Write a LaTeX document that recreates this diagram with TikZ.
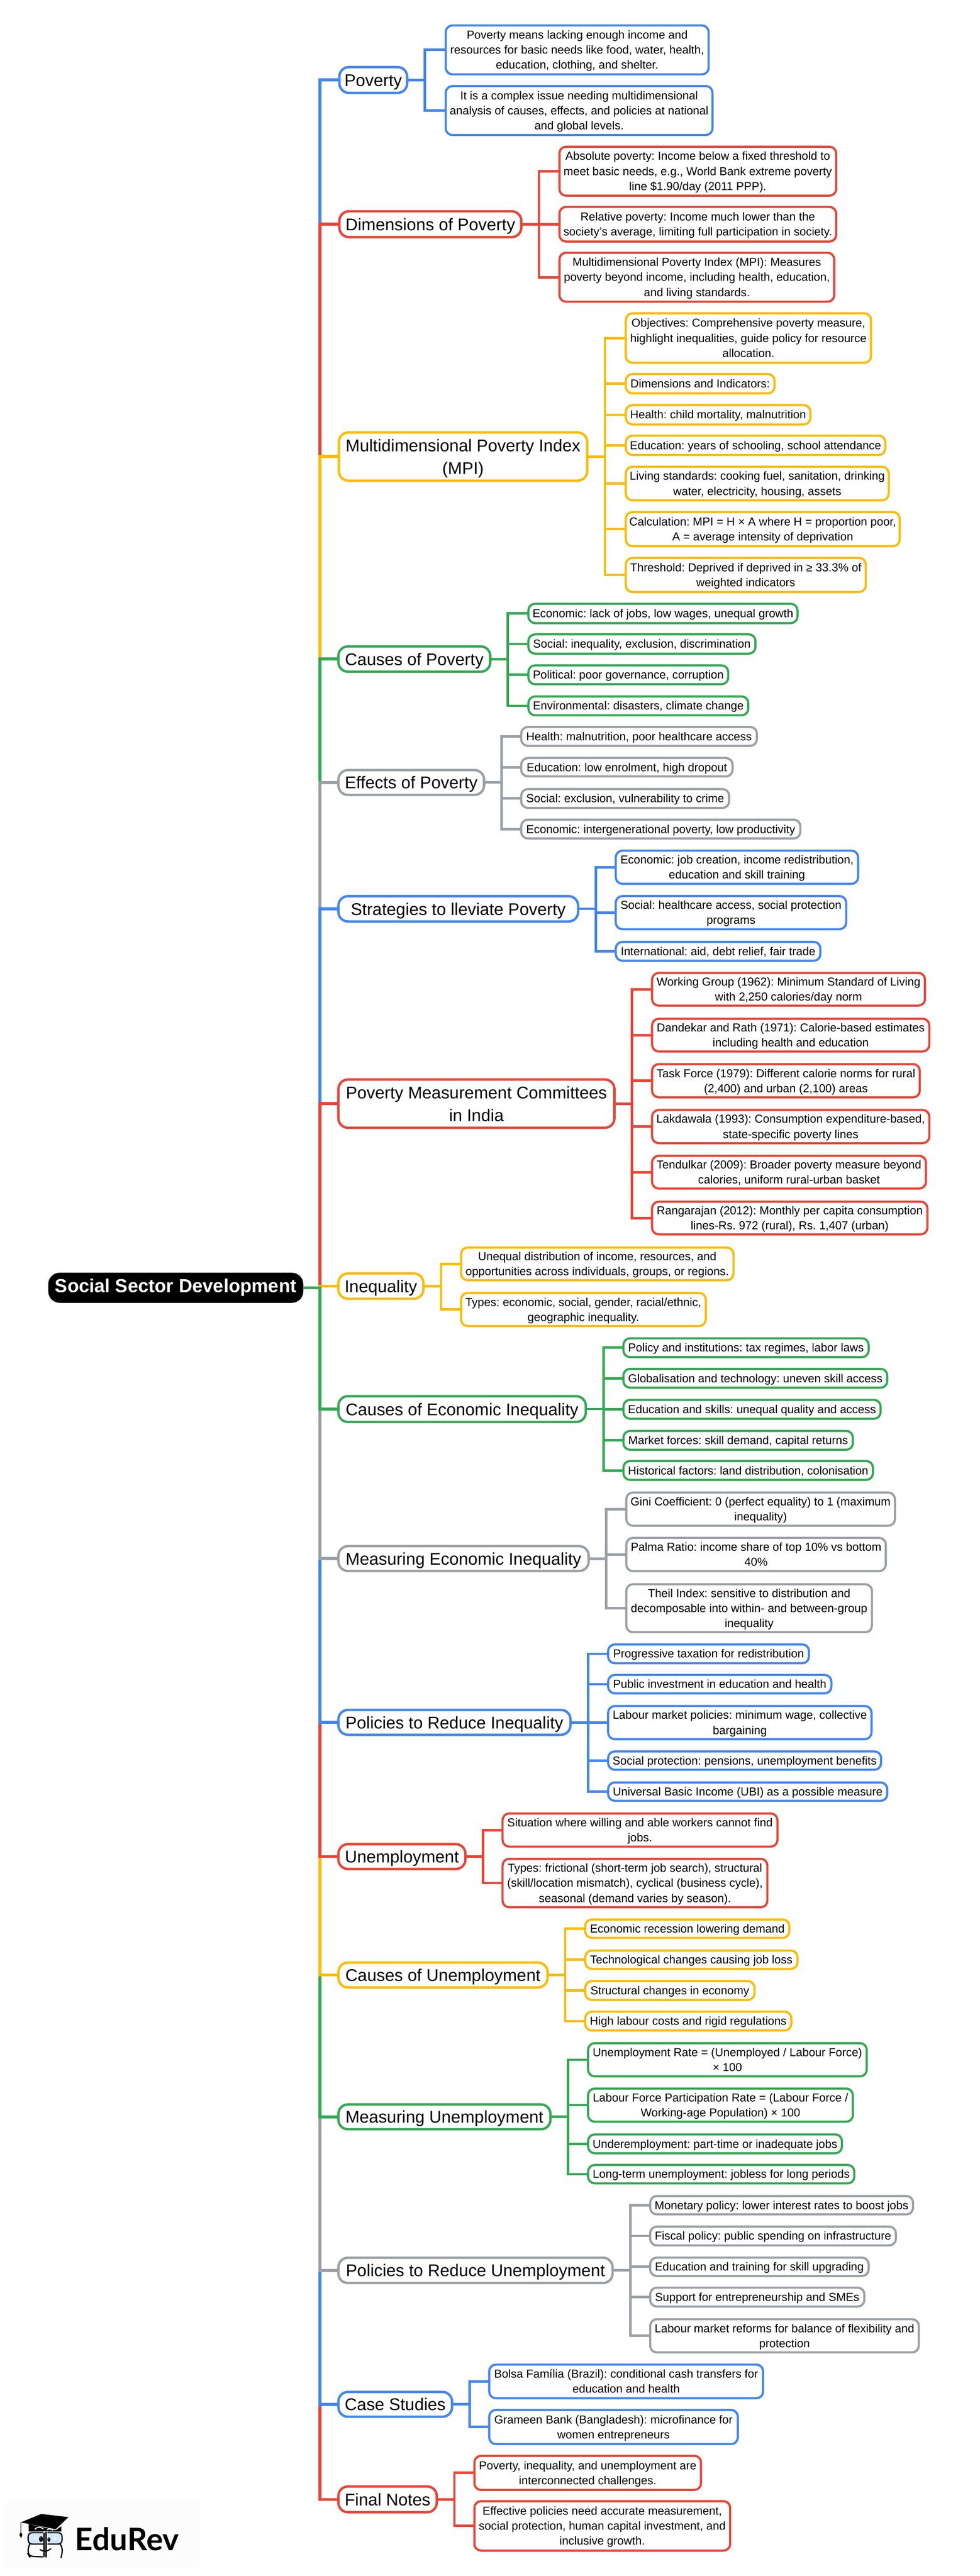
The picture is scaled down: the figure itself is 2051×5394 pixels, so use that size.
\documentclass[tikz,border=0pt]{standalone}
\usepackage{fontspec}
\setmainfont{Liberation Sans}
\newfontfamily\logofont{Lato}
\AtBeginDocument{\frenchspacing}
\definecolor{cblue}{HTML}{4285F4}
\definecolor{cred}{HTML}{EA4335}
\definecolor{cyel}{HTML}{FFBB00}
\definecolor{cgreen}{HTML}{34A853}
\definecolor{cgray}{HTML}{9AA0A6}
\def\MSTR{\leavevmode\vrule width 0pt height 18.25pt depth 5.25pt\relax}
\def\KSTR{\leavevmode\vrule width 0pt height 12.125pt depth 3.625pt\relax}
\def\NL{\STRT\\\STRT}
\tikzset{
  mainbox/.style={rectangle,rounded corners=10pt,line width=2.5pt,fill=white,inner sep=0pt,outer sep=0pt,align=center,text=black,font=\fontsize{17.75}{23.5}\selectfont},
  kidbox/.style={rectangle,rounded corners=7pt,line width=2.25pt,fill=white,inner sep=0pt,outer sep=0pt,align=center,text=black,font=\fontsize{12.1}{15.75}\selectfont},
  rootbox/.style={rectangle,rounded corners=12pt,fill=black,inner sep=0pt,outer sep=0pt,align=center,text=white,font=\fontsize{19.6}{24}\selectfont\bfseries},
  trunkline/.style={line width=3pt},
  busline/.style={line width=2.6pt}
}
\newcommand\MN[7]{\let\STRT\MSTR\node[mainbox,draw=#1,minimum width={(#4-#3-5)*0.5pt},minimum height={(#6-#5-5)*0.5pt}] (#2) at ({(#3+#4)/2},{(#5+#6)/2}) {\STRT #7\STRT};}
\newcommand\KD[7]{\let\STRT\KSTR\node[kidbox,draw=#1,minimum width={(#4-#3-4.5)*0.5pt},minimum height={(#6-#5-4.5)*0.5pt}] (#2) at ({(#3+#4)/2},{(#5+#6)/2}) {\STRT #7\STRT};}
\newcommand\BR[3]{\foreach \kid in {#3} {\draw[busline,#1] (#2.east) -- ++(37,0) |- (\kid.west);}}
\newcommand\TR[2]{\draw[trunkline,#1] (root.east) -- ++(35,0) |- (#2.west);}
\begin{document}
\begin{tikzpicture}[x=0.5pt,y=-0.5pt]
\useasboundingbox (0,0) rectangle (2051,5394);
\fill[white] (0,0) rectangle (2051,5394);
% root
\node[rootbox,minimum width={534*0.5pt},minimum height={63*0.5pt}] (root) at (368,2696.5) {Social Sector Development};
% Poverty
\MN{cblue}{pov}{708}{855}{138}{197}{Poverty}
\KD{cblue}{povA}{931}{1486}{51}{158}{Poverty means lacking enough income and\NL resources for basic needs like food, water, health,\NL education, clothing, and shelter.}
\KD{cblue}{povB}{931}{1494}{178}{285}{It is a complex issue needing multidimensional\NL analysis of causes, effects, and policies at national\NL and global levels.}
% Dimensions
\MN{cred}{dim}{708}{1094}{440}{499}{Dimensions of Poverty}
\KD{cred}{dimA}{1169}{1753}{305}{412}{Absolute poverty: Income below a fixed threshold to\NL meet basic needs, e.g., World Bank extreme poverty\NL line \$1.90/day (2011 PPP).}
\KD{cred}{dimB}{1169}{1753}{431}{508}{Relative poverty: Income much lower than the\NL society's average, limiting full participation in society.}
\KD{cred}{dimC}{1169}{1749}{527}{634}{Multidimensional Poverty Index (MPI): Measures\NL poverty beyond income, including health, education,\NL and living standards.}
% MPI
\MN{cyel}{mpi}{707}{1232}{903}{1009}{Multidimensional Poverty Index\NL (MPI)}
\KD{cyel}{mpiA}{1308}{1826}{654}{762}{Objectives: Comprehensive poverty measure,\NL highlight inequalities, guide policy for resource\NL allocation.}
\KD{cyel}{mpiB}{1308}{1624}{781}{826}{Dimensions and Indicators:}
\KD{cyel}{mpiC}{1308}{1699}{846}{891}{Health: child mortality, malnutrition}
\KD{cyel}{mpiD}{1308}{1856}{910}{955}{Education: years of schooling, school attendance}
\KD{cyel}{mpiE}{1308}{1863}{975}{1050}{Living standards: cooking fuel, sanitation, drinking\NL water, electricity, housing, assets}
\KD{cyel}{mpiF}{1308}{1886}{1070}{1146}{Calculation: MPI = H × A where H = proportion poor,\NL A = average intensity of deprivation}
\KD{cyel}{mpiG}{1308}{1815}{1166}{1242}{Threshold: Deprived if deprived in ≥ 33.3\% of\NL weighted indicators}
% Causes of poverty
\MN{cgreen}{cop}{706}{1029}{1351}{1409}{Causes of Poverty}
\KD{cgreen}{copA}{1104}{1672}{1262}{1307}{Economic: lack of jobs, low wages, unequal growth}
\KD{cgreen}{copB}{1104}{1584}{1326}{1371}{Social: inequality, exclusion, discrimination}
\KD{cgreen}{copC}{1104}{1527}{1391}{1435}{Political: poor governance, corruption}
\KD{cgreen}{copD}{1104}{1569}{1456}{1500}{Environmental: disasters, climate change}
% Effects
\MN{cgray}{eff}{706}{1016}{1610}{1667}{Effects of Poverty}
\KD{cgray}{effA}{1089}{1587}{1520}{1564}{Health: malnutrition, poor healthcare access}
\KD{cgray}{effB}{1089}{1536}{1585}{1628}{Education: low enrolment, high dropout}
\KD{cgray}{effC}{1089}{1529}{1650}{1694}{Social: exclusion, vulnerability to crime}
\KD{cgray}{effD}{1089}{1678}{1714}{1758}{Economic: intergenerational poverty, low productivity}
% Strategies
\MN{cblue}{str}{706}{1213}{1874}{1932}{Strategies to lleviate Poverty}
\KD{cblue}{strA}{1287}{1799}{1779}{1853}{Economic: job creation, income redistribution,\NL education and skill training}
\KD{cblue}{strB}{1287}{1774}{1874}{1948}{Social: healthcare access, social protection\NL programs}
\KD{cblue}{strC}{1287}{1720}{1970}{2014}{International: aid, debt relief, fair trade}
% Committees
\MN{cred}{pmc}{706}{1289}{2258}{2364}{Poverty Measurement Committees\NL in India}
\KD{cred}{pmcA}{1363}{1939}{2035}{2108}{Working Group (1962): Minimum Standard of Living\NL with 2,250 calories/day norm}
\KD{cred}{pmcB}{1363}{1948}{2131}{2204}{Dandekar and Rath (1971): Calorie-based estimates\NL including health and education}
\KD{cred}{pmcC}{1363}{1928}{2226}{2300}{Task Force (1979): Different calorie norms for rural\NL (2,400) and urban (2,100) areas}
\KD{cred}{pmcD}{1363}{1948}{2322}{2396}{Lakdawala (1993): Consumption expenditure-based,\NL state-specific poverty lines}
\KD{cred}{pmcE}{1363}{1941}{2418}{2491}{Tendulkar (2009): Broader poverty measure beyond\NL calories, uniform rural-urban basket}
\KD{cred}{pmcF}{1363}{1944}{2514}{2587}{Rangarajan (2012): Monthly per capita consumption\NL lines-Rs. 972 (rural), Rs. 1,407 (urban)}
% Inequality
\MN{cyel}{ineq}{706}{889}{2664}{2722}{Inequality}
\KD{cyel}{ineqA}{963}{1538}{2610}{2683}{Unequal distribution of income, resources, and\NL opportunities across individuals, groups, or regions.}
\KD{cyel}{ineqB}{963}{1480}{2705}{2779}{Types: economic, social, gender, racial/ethnic,\NL geographic inequality.}
% Causes of economic inequality
\MN{cgreen}{cei}{706}{1229}{2921}{2980}{Causes of Economic Inequality}
\KD{cgreen}{ceiA}{1303}{1821}{2800}{2844}{Policy and institutions: tax regimes, labor laws}
\KD{cgreen}{ceiB}{1303}{1860}{2864}{2908}{Globalisation and technology: uneven skill access}
\KD{cgreen}{ceiC}{1303}{1846}{2929}{2973}{Education and skills: unequal quality and access}
\KD{cgreen}{ceiD}{1303}{1788}{2994}{3038}{Market forces: skill demand, capital returns}
\KD{cgreen}{ceiE}{1303}{1830}{3057}{3101}{Historical factors: land distribution, colonisation}
% Measuring economic inequality
\MN{cgray}{mei}{706}{1235}{3235}{3292}{Measuring Economic Inequality}
\KD{cgray}{meiA}{1309}{1876}{3123}{3197}{Gini Coefficient: 0 (perfect equality) to 1 (maximum\NL inequality)}
\KD{cgray}{meiB}{1309}{1857}{3218}{3292}{Palma Ratio: income share of top 10\% vs bottom\NL 40\%}
\KD{cgray}{meiC}{1309}{1828}{3315}{3420}{Theil Index: sensitive to distribution and\NL decomposable into within- and between-group\NL inequality}
% Policies inequality
\MN{cblue}{pri}{706}{1197}{3578}{3635}{Policies to Reduce Inequality}
\KD{cblue}{priA}{1271}{1696}{3441}{3485}{Progressive taxation for redistribution}
\KD{cblue}{priB}{1271}{1743}{3505}{3548}{Public investment in education and health}
\KD{cblue}{priC}{1271}{1827}{3570}{3644}{Labour market policies: minimum wage, collective\NL bargaining}
\KD{cblue}{priD}{1271}{1847}{3665}{3708}{Social protection: pensions, unemployment benefits}
\KD{cblue}{priE}{1271}{1860}{3730}{3773}{Universal Basic Income (UBI) as a possible measure}
% Unemployment
\MN{cred}{une}{706}{977}{3859}{3916}{Unemployment}
\KD{cred}{uneA}{1050}{1630}{3795}{3869}{Situation where willing and able workers cannot find\NL jobs.}
\KD{cred}{uneB}{1050}{1609}{3890}{3996}{Types: frictional (short-term job search), structural\NL (skill/location mismatch), cyclical (business cycle),\NL seasonal (demand varies by season).}
% Causes of unemployment
\MN{cyel}{cou}{706}{1149}{4107}{4164}{Causes of Unemployment}
\KD{cyel}{couA}{1223}{1655}{4017}{4060}{Economic recession lowering demand}
\KD{cyel}{couB}{1223}{1672}{4082}{4125}{Technological changes causing job loss}
\KD{cyel}{couC}{1223}{1582}{4146}{4190}{Structural changes in economy}
\KD{cyel}{couD}{1223}{1659}{4210}{4254}{High labour costs and rigid regulations}
% Measuring unemployment
\MN{cgreen}{meu}{706}{1155}{4404}{4461}{Measuring Unemployment}
\KD{cgreen}{meuA}{1229}{1817}{4276}{4350}{Unemployment Rate = (Unemployed / Labour Force)\NL × 100}
\KD{cgreen}{meuB}{1229}{1788}{4371}{4445}{Labour Force Participation Rate = (Labour Force /\NL Working-age Population) × 100}
\KD{cgreen}{meuC}{1229}{1765}{4467}{4511}{Underemployment: part-time or inadequate jobs}
\KD{cgreen}{meuD}{1229}{1791}{4531}{4574}{Long-term unemployment: jobless for long periods}
% Policies unemployment
\MN{cgray}{pru}{706}{1285}{4725}{4783}{Policies to Reduce Unemployment}
\KD{cgray}{pruA}{1359}{1914}{4596}{4639}{Monetary policy: lower interest rates to boost jobs}
\KD{cgray}{pruB}{1359}{1878}{4660}{4704}{Fiscal policy: public spending on infrastructure}
\KD{cgray}{pruC}{1359}{1821}{4725}{4768}{Education and training for skill upgrading}
\KD{cgray}{pruD}{1359}{1812}{4788}{4832}{Support for entrepreneurship and SMEs}
\KD{cgray}{pruE}{1359}{1926}{4854}{4928}{Labour market reforms for balance of flexibility and\NL protection}
% Case studies
\MN{cblue}{cas}{706}{949}{5006}{5063}{Case Studies}
\KD{cblue}{casA}{1022}{1600}{4949}{5024}{Bolsa Família (Brazil): conditional cash transfers for\NL education and health}
\KD{cblue}{casB}{1022}{1547}{5044}{5120}{Grameen Bank (Bangladesh): microfinance for\NL women entrepreneurs}
% Final notes
\MN{cred}{fin}{706}{917}{5204}{5263}{Final Notes}
\KD{cred}{finA}{991}{1470}{5140}{5216}{Poverty, inequality, and unemployment are\NL interconnected challenges.}
\KD{cred}{finB}{991}{1531}{5235}{5343}{Effective policies need accurate measurement,\NL social protection, human capital investment, and\NL inclusive growth.}
% branch connectors
\BR{cblue}{pov}{povA,povB}
\BR{cred}{dim}{dimA,dimB,dimC}
\BR{cyel}{mpi}{mpiA,mpiB,mpiC,mpiD,mpiE,mpiF,mpiG}
\BR{cgreen}{cop}{copA,copB,copC,copD}
\BR{cgray}{eff}{effA,effB,effC,effD}
\BR{cblue}{str}{strA,strB,strC}
\BR{cred}{pmc}{pmcA,pmcB,pmcC,pmcD,pmcE,pmcF}
\BR{cyel}{ineq}{ineqA,ineqB}
\BR{cgreen}{cei}{ceiA,ceiB,ceiC,ceiD,ceiE}
\BR{cgray}{mei}{meiA,meiB,meiC}
\BR{cblue}{pri}{priA,priB,priC,priD,priE}
\BR{cred}{une}{uneA,uneB}
\BR{cyel}{cou}{couA,couB,couC,couD}
\BR{cgreen}{meu}{meuA,meuB,meuC,meuD}
\BR{cgray}{pru}{pruA,pruB,pruC,pruD,pruE}
\BR{cblue}{cas}{casA,casB}
\BR{cred}{fin}{finA,finB}
% trunk: upper half
\TR{cblue}{pov}
\TR{cred}{dim}
\TR{cyel}{mpi}
\TR{cgreen}{cop}
\TR{cgray}{eff}
\TR{cblue}{str}
\TR{cred}{pmc}
\TR{cyel}{ineq}
% trunk: lower half
\TR{cred}{fin}
\TR{cblue}{cas}
\TR{cgray}{pru}
\TR{cgreen}{meu}
\TR{cyel}{cou}
\TR{cred}{une}
\TR{cblue}{pri}
\TR{cgray}{mei}
\TR{cgreen}{cei}
% logo
\fill[black!1] (10,5235) rectangle (417,5378);
\begin{scope}[yshift=-2600pt,x=0.16667pt,y=-0.16667pt]
\fill[black] (130,245) -- (260,192) -- (430,212) -- (350,288) -- cycle;
\fill[black] (180,255) -- (180,302) -- (385,302) -- (385,270) -- (350,295) -- cycle;
\draw[white,line width=1pt] (218,290) .. controls (235,270) and (255,272) .. (272,288);
\draw[white,line width=1pt] (295,293) .. controls (305,283) and (320,285) .. (332,295);
\draw[black,line width=0.6pt] (130,245) -- (130,312);
\fill[black] (122,322) -- (130,306) -- (141,322) -- (132,345) -- cycle;
\draw[black,line width=1.3pt,fill=blue!50!cyan!18,rounded corners=4pt] (177,310) rectangle (390,381);
\draw[black,line width=1.3pt,rounded corners=4pt] (278,462) -- (185,458) -- (177,445) -- (177,395) -- (185,383);
\draw[black,line width=1.3pt,rounded corners=4pt] (380,383) -- (391,395) -- (391,445) -- (385,462);
\fill[white] (273,300) rectangle (297,465);
\draw[black,line width=1.5pt] (276,310) -- (276,462);
\draw[black,line width=1.5pt] (290,305) -- (290,465);
\fill[black] (258,350) ellipse [x radius=13,y radius=18];
\fill[black] (307,353) ellipse [x radius=10,y radius=14];
\fill[white] (253,342) circle [radius=3];
\fill[white] (303,346) circle [radius=2.5];
\fill[white] (225,346) circle [radius=8];
\fill[white] (345,346) circle [radius=8];
\draw[black,line width=1.2pt] (250,415) .. controls (270,430) and (300,430) .. (320,408);
\end{scope}
\node[anchor=base west,inner sep=0pt,font=\logofont\fontsize{32.6}{36}\selectfont\bfseries] (logotext) at (157,5341) {EduRev};
\end{tikzpicture}
\end{document}
